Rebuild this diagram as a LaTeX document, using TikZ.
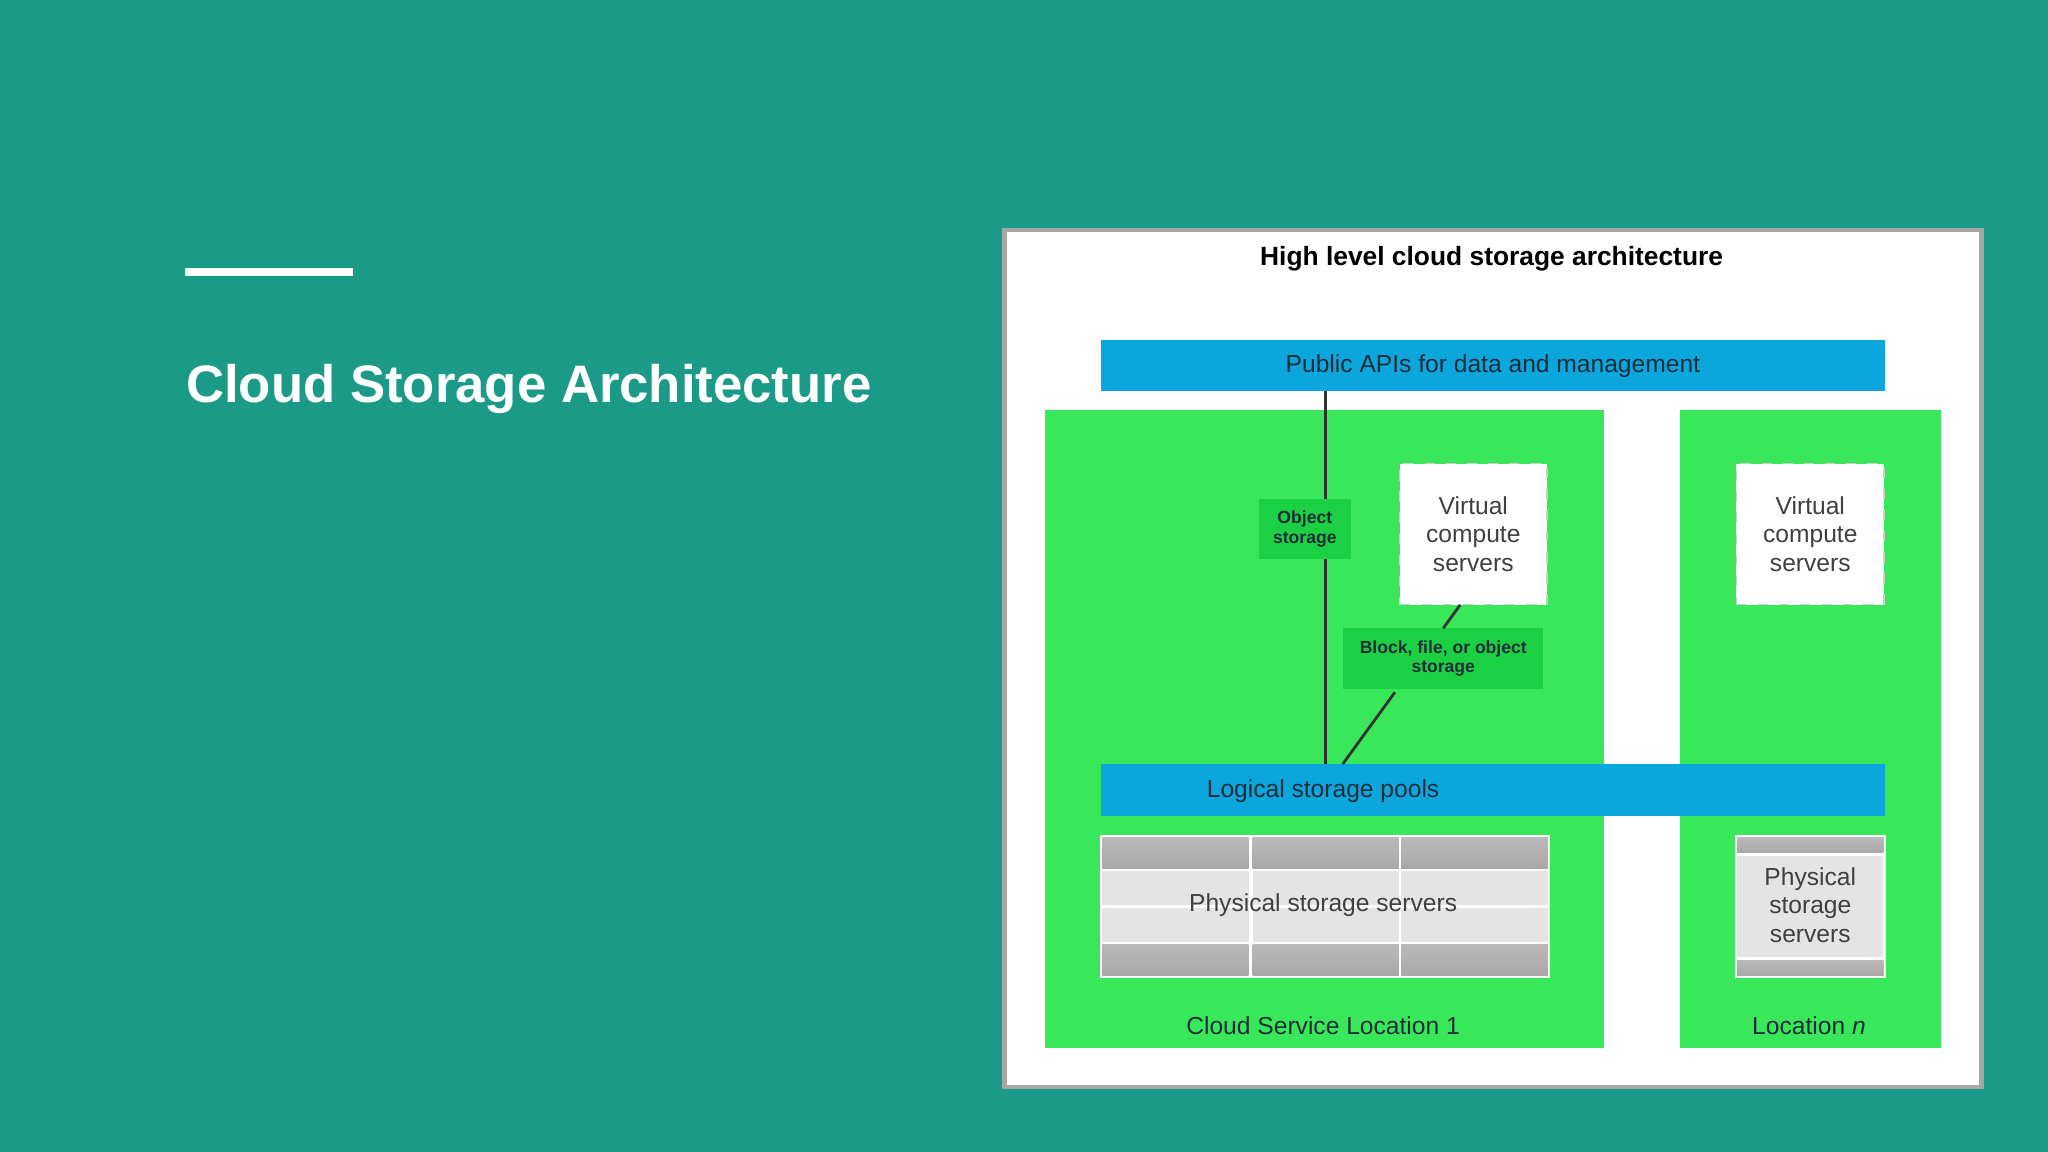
\documentclass[tikz,border=0pt]{standalone}
\usepackage{fontspec}
\setmainfont{Liberation Sans}
\begin{document}
\definecolor{teal1}{HTML}{1B9A87}
\definecolor{gr}{HTML}{38E85A}
\definecolor{dgr}{HTML}{1CD043}
\definecolor{bl}{HTML}{0BA6DC}
\definecolor{txt}{HTML}{1F2D3A}
\definecolor{srvd}{HTML}{A8A8A8}
\definecolor{srvl}{HTML}{E4E4E4}
\begin{tikzpicture}[x=0.01306cm,y=-0.01306cm,
  lab/.style={font=\fontsize{7pt}{8pt}\selectfont,text=txt,align=center,inner sep=0},
  small/.style={font=\fontsize{5pt}{5.5pt}\selectfont\bfseries,text=txt,align=center,inner sep=0}]
\fill[teal1] (0,0) rectangle (1568,882);
\useasboundingbox (0,0) rectangle (1568,882);
\fill[white] (142,205) rectangle (270,211);
\node[anchor=west,text=white,font=\fontsize{15pt}{18pt}\selectfont\bfseries,inner sep=0] (title) at (142,298) {Cloud Storage Architecture};
\draw[white,fill=white,draw=gray!70,line width=1.2pt] (769,176) rectangle (1517,832);
\node[font=\fontsize{7.5pt}{9pt}\selectfont\bfseries,text=black] (dt) at (1142,198) {High level cloud storage architecture};
\fill[gr] (800,314) rectangle (1228,802);
\fill[gr] (1286,314) rectangle (1486,802);
\node[fill=bl,minimum width=600*0.01306cm,minimum height=39*0.01306cm,inner sep=0] (api) at (1143,280) {};
\node[lab] at (api) {Public APIs for data and management};
\node[fill=bl,minimum width=600*0.01306cm,minimum height=40*0.01306cm,inner sep=0] (pool) at (1143,605) {};
\node[lab] (pooltxt) at (1013,606) {Logical storage pools};
\coordinate (vtop) at (1015,299);
\coordinate (vbot) at (1015,585);
\draw[line width=0.8pt,black!80] (vtop) -- (vbot);
\node[fill=dgr,minimum width=70*0.01306cm,minimum height=46*0.01306cm,inner sep=0] (obj) at (999,405) {};
\node[small] at (obj) {Object\\storage};
\foreach \n/\cx in {vc1/1128,vc2/1386}{
  \node[fill=white,draw=gray!40,dashed,minimum width=113*0.01306cm,minimum height=108*0.01306cm,inner sep=0] (\n) at (\cx,409) {};
  \node[lab,text=black!75] at (\n) {Virtual\\compute\\servers};
}
\node[fill=dgr,minimum width=153*0.01306cm,minimum height=47*0.01306cm,inner sep=0] (blk) at (1105,504) {};
\node[small] at (blk) {Block, file, or object\\storage};
\coordinate (b1) at (1068,530); \coordinate (b2) at (1028,585);
\coordinate (a1) at (1118,463); \coordinate (a2) at (1105,481);
\draw[line width=0.8pt,black!80] (a1) -- (a2);
\draw[line width=0.8pt,black!80] (b1) -- (b2);
% physical servers left
\fill[white] (842,639) rectangle (1187,749);
\foreach \x in {843,958,1072}{
  \shade[top color=srvd!80,bottom color=srvd] (\x+1,641) rectangle (\x+113,665);
  \fill[srvl] (\x+1,667) rectangle (\x+113,693);
  \fill[srvl] (\x+1,695) rectangle (\x+113,721);
  \shade[top color=srvd!80,bottom color=srvd] (\x+1,723) rectangle (\x+113,747);
}
\node[lab,text=black!75] (ps1) at (1013,693) {Physical storage servers};
\fill[white] (1328,639) rectangle (1444,749);
\shade[top color=srvd!80,bottom color=srvd] (1330,641) rectangle (1442,653);
\fill[srvl] (1330,655) rectangle (1442,733);
\shade[top color=srvd!80,bottom color=srvd] (1330,735) rectangle (1442,747);
\node[lab,text=black!75] (ps2) at (1386,693) {Physical\\storage\\servers};
\node[lab] (l1) at (1013,785) {Cloud Service Location 1};
\node[lab] (ln) at (1385,785) {Location \textit{n}};
\end{tikzpicture}
\end{document}
